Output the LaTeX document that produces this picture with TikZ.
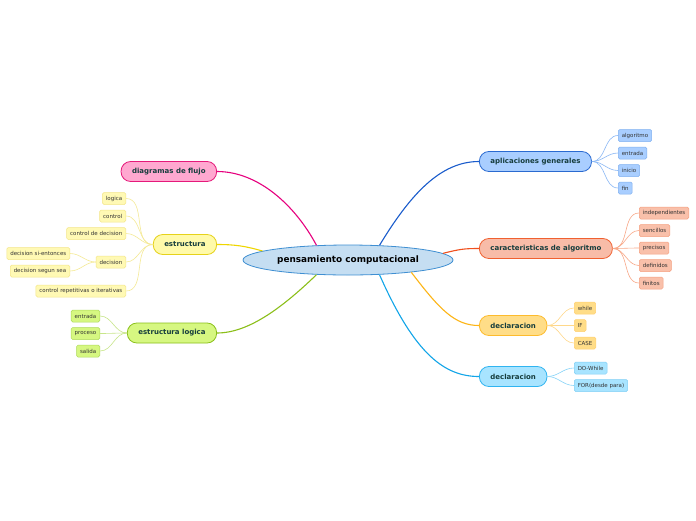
\documentclass[tikz,border=0pt]{standalone}
\usepackage{fontspec}
\setmainfont{DejaVu Sans}
\usetikzlibrary{shapes.geometric}
\definecolor{txtdark}{HTML}{163D3D}
\definecolor{leaftxt}{HTML}{333333}
% magenta
\definecolor{mgL}{HTML}{E6007E}\definecolor{mgF}{HTML}{FFA8D0}\definecolor{mgB}{HTML}{E5197A}
% yellow
\definecolor{yeL}{HTML}{EFD600}\definecolor{yeF}{HTML}{FFFAAA}\definecolor{yeB}{HTML}{E6D21A}
\definecolor{yeLF}{HTML}{FFF9B4}\definecolor{yeLB}{HTML}{F3E68A}\definecolor{yeC}{HTML}{F5EA96}
% green
\definecolor{grL}{HTML}{8CBF1A}\definecolor{grF}{HTML}{D6F781}\definecolor{grB}{HTML}{8AC01A}
\definecolor{grLF}{HTML}{D6F781}\definecolor{grLB}{HTML}{ADD95A}\definecolor{grC}{HTML}{C8E68A}
% blue
\definecolor{blL}{HTML}{1A5CCC}\definecolor{blF}{HTML}{A9CEFF}\definecolor{blB}{HTML}{2A6AD0}
\definecolor{blLF}{HTML}{A9CEFF}\definecolor{blLB}{HTML}{7FB0F0}\definecolor{blC}{HTML}{8AB8F5}
% red
\definecolor{rdL}{HTML}{F0501E}\definecolor{rdF}{HTML}{F8BCA8}\definecolor{rdB}{HTML}{F06030}
\definecolor{rdLF}{HTML}{F9C0AA}\definecolor{rdLB}{HTML}{F5A080}\definecolor{rdC}{HTML}{F8A888}
% orange
\definecolor{orL}{HTML}{FDB515}\definecolor{orF}{HTML}{FFDD88}\definecolor{orB}{HTML}{FDBB2D}
\definecolor{orLF}{HTML}{FFDD88}\definecolor{orLB}{HTML}{FFD070}\definecolor{orC}{HTML}{FFD88A}
% cyan
\definecolor{cyL}{HTML}{12A5E8}\definecolor{cyF}{HTML}{A8E4FF}\definecolor{cyB}{HTML}{30B4F0}
\definecolor{cyLF}{HTML}{A8E4FF}\definecolor{cyLB}{HTML}{80CFF5}\definecolor{cyC}{HTML}{88D4F8}
% center
\definecolor{ceF}{HTML}{C5DEF2}\definecolor{ceB}{HTML}{3F8FD2}
\tikzset{
  branch/.style={draw, line width=0.8pt, rounded corners=9.5pt, minimum height=20pt,
    inner xsep=11pt, inner ysep=0pt, font=\bfseries\fontsize{7}{8}\selectfont, text=txtdark},
  leaf/.style={draw, line width=0.5pt, rounded corners=1.5pt, minimum height=12pt,
    inner xsep=3.5pt, inner ysep=0pt, font=\fontsize{5.5}{6}\selectfont, text=leaftxt},
  mainline/.style={line width=1.1pt},
  leafline/.style={line width=0.6pt},
}
\begin{document}
\begin{tikzpicture}[x=1pt,y=-1pt]
\useasboundingbox[fill=white] (0,0) rectangle (696,520);

% central node
\node[ellipse, draw=ceB, fill=ceF, line width=0.8pt, minimum width=210pt, minimum height=30pt,
  inner sep=0pt, font=\bfseries\fontsize{8.9}{10}\selectfont, text=black] (c) at (348,260) {pensamiento computacional};

% branches
\node[branch, draw=mgB, fill=mgF, anchor=east] (diag) at (217,171.5) {diagramas de flujo};
\node[branch, draw=yeB, fill=yeF, anchor=east] (estr) at (217,244.5) {estructura};
\node[branch, draw=grB, fill=grF, anchor=east] (elog) at (217,333) {estructura logica};
\node[branch, draw=blB, fill=blF, anchor=west] (apli) at (479,161.5) {aplicaciones generales};
\node[branch, draw=rdB, fill=rdF, anchor=west] (cara) at (479,248.5) {caracteristicas de algoritmo};
\node[branch, draw=orB, fill=orF, anchor=west] (decl) at (479,325.5) {declaracion};
\node[branch, draw=cyB, fill=cyF, anchor=west] (decc) at (479,376.5) {declaracion};

% main connectors
\draw[mainline, mgL] (c.155) .. controls (295,205) and (258,171.5) .. (diag.east);
\draw[mainline, yeL] (c.174) .. controls (245,246) and (235,244.5) .. (estr.east);
\draw[mainline, grL] (c.205) .. controls (285,305) and (250,333) .. (elog.east);
\draw[mainline, blL] (c.25) .. controls (410,195) and (440,161.5) .. (apli.west);
\draw[mainline, rdL] (c.4) .. controls (460,249) and (465,248.5) .. (cara.west);
\draw[mainline, orL] (c.-11) .. controls (440,310) and (455,325.5) .. (decl.west);
\draw[mainline, cyL] (c.-25) .. controls (415,355) and (445,376.5) .. (decc.west);

% estructura leaves
\node[leaf, draw=yeLB, fill=yeLF, anchor=east] (l1) at (126,198.5) {logica};
\node[leaf, draw=yeLB, fill=yeLF, anchor=east] (l2) at (126,216) {control};
\node[leaf, draw=yeLB, fill=yeLF, anchor=east] (l3) at (126,233.5) {control de decision};
\node[leaf, draw=yeLB, fill=yeLF, anchor=east] (l4) at (126,262) {decision};
\node[leaf, draw=yeLB, fill=yeLF, anchor=east] (l5) at (126,291) {control repetitivas o iterativas};
\node[leaf, draw=yeLB, fill=yeLF, anchor=east] (l41) at (70,253.5) {decision si-entonces};
\node[leaf, draw=yeLB, fill=yeLF, anchor=east] (l42) at (70,271) {decision segun sea};
\foreach \n in {l1,l2,l3,l4,l5}
  \draw[leafline, yeC] (estr.west) to[out=180,in=0] (\n.east);
\foreach \n in {l41,l42}
  \draw[leafline, yeC] (l4.west) to[out=180,in=0] (\n.east);

% estructura logica leaves
\node[leaf, draw=grLB, fill=grLF, anchor=east] (g1) at (100,316) {entrada};
\node[leaf, draw=grLB, fill=grLF, anchor=east] (g2) at (100,333.5) {proceso};
\node[leaf, draw=grLB, fill=grLF, anchor=east] (g3) at (100,351) {salida};
\foreach \n in {g1,g2,g3}
  \draw[leafline, grC] (elog.west) to[out=180,in=0] (\n.east);

% aplicaciones generales leaves
\node[leaf, draw=blLB, fill=blLF, anchor=west] (b1) at (618,135.5) {algoritmo};
\node[leaf, draw=blLB, fill=blLF, anchor=west] (b2) at (618,153) {entrada};
\node[leaf, draw=blLB, fill=blLF, anchor=west] (b3) at (618,170.5) {inicio};
\node[leaf, draw=blLB, fill=blLF, anchor=west] (b4) at (618,188) {fin};
\foreach \n in {b1,b2,b3,b4}
  \draw[leafline, blC] (apli.east) to[out=0,in=180] (\n.west);

% caracteristicas leaves
\node[leaf, draw=rdLB, fill=rdLF, anchor=west] (r1) at (639,213) {independientes};
\node[leaf, draw=rdLB, fill=rdLF, anchor=west] (r2) at (639,230.5) {sencillos};
\node[leaf, draw=rdLB, fill=rdLF, anchor=west] (r3) at (639,248) {precisos};
\node[leaf, draw=rdLB, fill=rdLF, anchor=west] (r4) at (639,265.5) {definidos};
\node[leaf, draw=rdLB, fill=rdLF, anchor=west] (r5) at (639,283) {finitos};
\foreach \n in {r1,r2,r3,r4,r5}
  \draw[leafline, rdC] (cara.east) to[out=0,in=180] (\n.west);

% declaracion (orange) leaves
\node[leaf, draw=orLB, fill=orLF, anchor=west] (o1) at (574,308) {while};
\node[leaf, draw=orLB, fill=orLF, anchor=west] (o2) at (574,325.5) {IF};
\node[leaf, draw=orLB, fill=orLF, anchor=west] (o3) at (574,343) {CASE};
\foreach \n in {o1,o2,o3}
  \draw[leafline, orC] (decl.east) to[out=0,in=180] (\n.west);

% declaracion (cyan) leaves
\node[leaf, draw=cyLB, fill=cyLF, anchor=west] (k1) at (574,368) {DO-While};
\node[leaf, draw=cyLB, fill=cyLF, anchor=west] (k2) at (574,385.5) {FOR(desde para)};
\foreach \n in {k1,k2}
  \draw[leafline, cyC] (decc.east) to[out=0,in=180] (\n.west);
\end{tikzpicture}
\end{document}
